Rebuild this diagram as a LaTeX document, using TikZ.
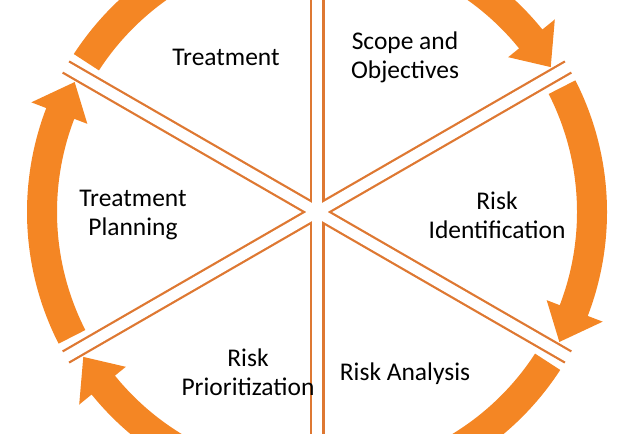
\documentclass[tikz,border=0pt]{standalone}
\usepackage{fontspec}
\setmainfont{Carlito}
\usetikzlibrary{calc}
\definecolor{ringorange}{RGB}{244,134,36}
\definecolor{lineorange}{RGB}{222,120,50}
\tikzset{x=0.02cm, y=0.02cm,
  label text/.style={align=center, font=\fontsize{14.5}{16.5}\selectfont},
  divider/.style={lineorange, line width=0.3cm},
  divider gap/.style={white, line width=0.21cm}}
% clockwise ring segment with its arrow head: #1 start angle, #2 end angle
\newcommand{\ringarrow}[2]{%
  \fill[ringorange] ($(c)+(#1-3:260)$) arc[start angle=#1-3, end angle=#2+9, radius=260]
    -- ($(c)+(#2+9:246)$) -- ($(c)+(#2+1.8:275)$) -- ($(c)+(#2+9:306)$)
    -- ($(c)+(#2+9:290)$) arc[start angle=#2+9, end angle=#1-3, radius=290] -- cycle;}

\begin{document}
\begin{tikzpicture}
  \useasboundingbox (0,0) rectangle (634,433);
  \coordinate (c) at (317,221);
  % dividers
  \foreach \a in {90,30,150}
    \draw[divider] ($(c)+(\a:290)$) -- ($(c)+(\a+180:290)$);
  \foreach \a in {90,30,150}
    \draw[divider gap] ($(c)+(\a:300)$) -- ($(c)+(\a+180:300)$);
  % ring
  \ringarrow{90}{30}
  \ringarrow{30}{-30}
  \ringarrow{-30}{-90}
  \ringarrow{-90}{-150}
  \ringarrow{-150}{-210}
  \ringarrow{150}{90}
  % labels
  \node[label text] (treat) at (226,376) {Treatment};
  \node[label text] (scope) at (405,376) {Scope and\\Objectives};
  \node[label text] (ident) at (497,218) {Risk\\Identification};
  \node[label text] (anal) at (405,59) {Risk Analysis};
  \node[label text] (prio) at (248,61) {Risk\\Prioritization};
  \node[label text] (plan) at (133,218) {Treatment\\Planning};
\end{tikzpicture}
\end{document}
